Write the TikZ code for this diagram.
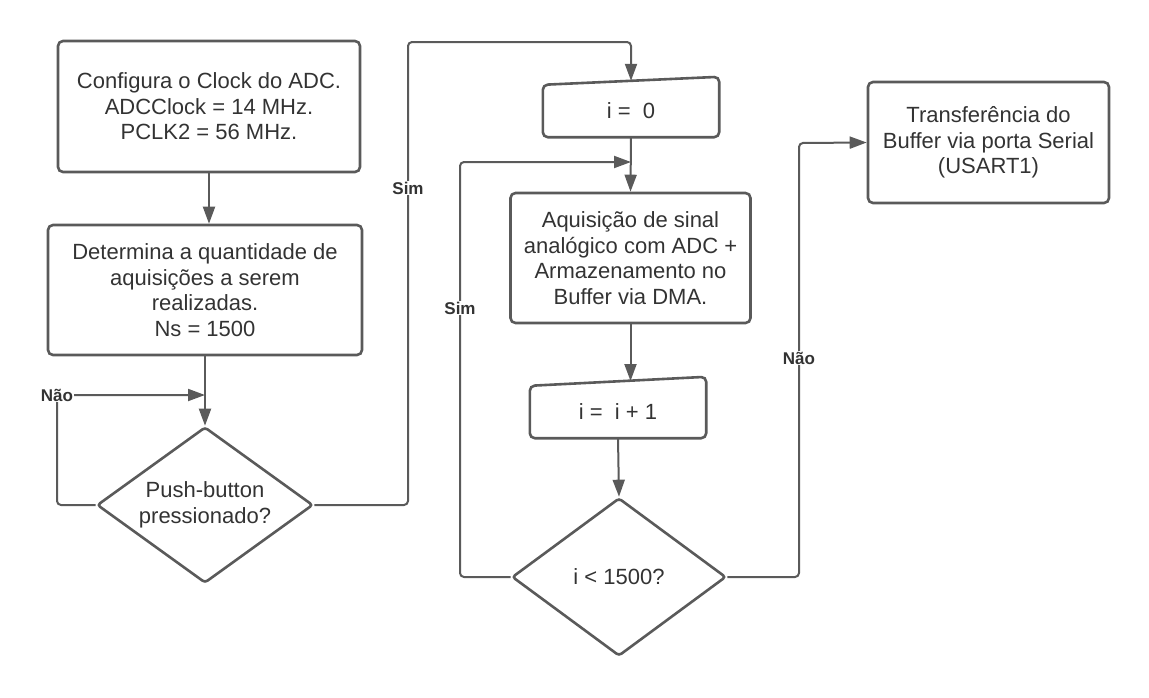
\documentclass[tikz,border=0pt]{standalone}
\usepackage{fontspec}
\setmainfont{Liberation Sans}
\usetikzlibrary{shapes.geometric,arrows.meta,calc}
\definecolor{linegray}{HTML}{5A5A5A}
\definecolor{textgray}{HTML}{333333}

\begin{document}
\begin{tikzpicture}[x=1pt,y=-1pt,
    boxtext/.style={align=center,text=textgray,font=\fontsize{22}{25.5}\selectfont,inner sep=0pt},
    procbox/.style={boxtext,draw=linegray,line width=2.6pt,rounded corners=5pt},
    inbox/.style={boxtext,minimum width=176pt,minimum height=52pt},
    inline/.style={draw=linegray,line width=2.6pt,rounded corners=5pt},
    decision/.style={boxtext,diamond,aspect=1.38,draw=linegray,line width=2.6pt,rounded corners=3pt},
    flow/.style={draw=linegray,line width=2pt,rounded corners=4pt,-{Triangle[length=17pt,width=12pt]}},
    answer/.style={fill=white,text=textgray,font=\bfseries\fontsize{17}{20}\selectfont,inner sep=1pt}]

    \useasboundingbox (0,0) rectangle (1149,697);

    \node[procbox,minimum width=302pt,minimum height=131pt] (clock) at (209,106.5) {Configura o Clock do ADC.\\ ADCClock = 14 MHz.\\ PCLK2 = 56 MHz.};
    \node[procbox,minimum width=314pt,minimum height=130pt] (amostras) at (205,290) {Determina a quantidade de\\ aquisições a serem\\ realizadas.\\ Ns = 1500};
    \node[decision,minimum width=216pt,minimum height=156pt] (botao) at (205,505) {Push-button\\ pressionado?};
    \node[inbox] (zera) at (631,111) {i =\ \ 0};
    \node[procbox,minimum width=240pt,minimum height=130pt] (adc) at (630.5,258) {Aquisição de sinal\\ analógico com ADC +\\ Armazenamento no\\ Buffer via DMA.};
    \node[inbox] (soma) at (618,412) {i =\ \ i + 1};
    \node[decision,aspect=1.35,minimum width=214pt,minimum height=158pt] (teste) at (619,577) {i < 1500?};
    \node[procbox,minimum width=241pt,minimum height=121pt] (serial) at (988.5,142.5) {Transferência do\\ Buffer via porta Serial\\ (USART1)};

    \draw[inline] (zera.south west) -- (zera.north west) -- ($(zera.north east)+(0,-8)$) -- (zera.south east) -- cycle;
    \draw[inline] (soma.south west) -- (soma.north west) -- ($(soma.north east)+(0,-9)$) -- (soma.south east) -- cycle;

    \coordinate (zeraTop) at ($(zera.north)+(0,-4)$);
    \coordinate (somaTop) at (adc.south |- 0,381);
    \coordinate (naoA) at (57,395);
    \coordinate (simA) at (408,42);
    \coordinate (simB) at (460,162);
    \coordinate (naoB) at (799,143);

    \draw[flow] (clock.south) -- (clock.south |- amostras.north);
    \draw[flow] (amostras.south) -- (botao.north);
    \draw[flow] (botao.west) -| (naoA) -- (amostras.south |- naoA);
    \draw[flow] (botao.east) -| (simA) -| (zeraTop);
    \draw[flow] (zera.south) -- (adc.north);
    \draw[flow] (adc.south) -- (somaTop);
    \draw[flow] (soma.south) -- (teste.north);
    \draw[flow] (teste.west) -| (simB) -- (zera.south |- simB);
    \draw[flow] (teste.east) -| (naoB) -- (serial.west);

    \node[answer] (nao1) at (naoA) {Não};
    \node[answer] (sim1) at (408,188) {Sim};
    \node[answer] (sim2) at (460,308) {Sim};
    \node[answer] (nao2) at (799,358) {Não};

\end{tikzpicture}
\end{document}
